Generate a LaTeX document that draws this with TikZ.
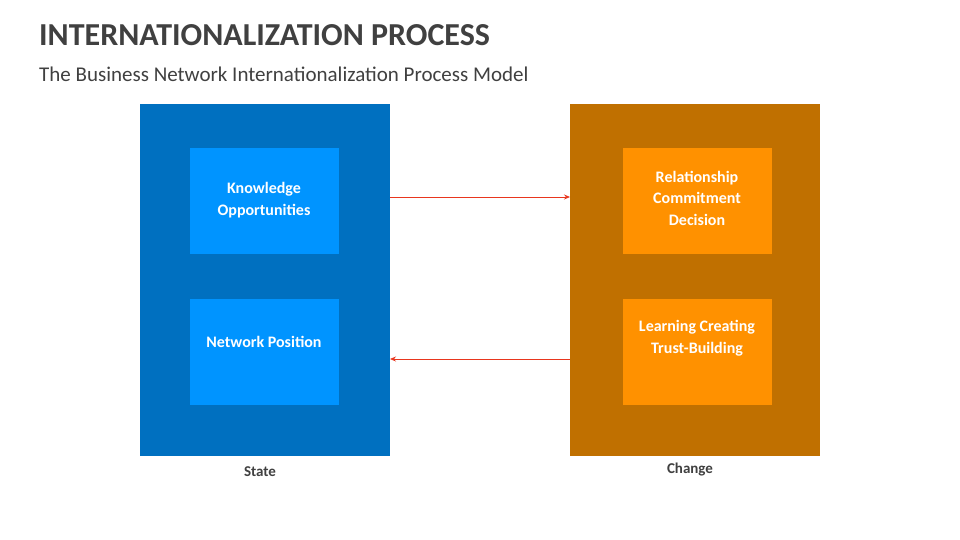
\documentclass[tikz,border=0pt]{standalone}
\usepackage{fontspec}
\setmainfont{Carlito}
\usetikzlibrary{arrows.meta}
\definecolor{tgray}{HTML}{404040}
\definecolor{outblue}{HTML}{0070C0}
\definecolor{inblue}{HTML}{0094FF}
\definecolor{outorange}{HTML}{C07000}
\definecolor{inorange}{HTML}{FF9100}
\definecolor{arrred}{HTML}{E8361E}
\tikzset{
  outer/.style={minimum width=250pt,minimum height=352pt,inner sep=0pt,anchor=north west},
  inner/.style={minimum width=149pt,minimum height=106pt,inner sep=0pt,anchor=north west},
  intext/.style={text=white,font=\bfseries\fontsize{16pt}{21.5pt}\selectfont,align=center},
  lab/.style={text=tgray,font=\bfseries\fontsize{15pt}{18pt}\selectfont},
  conn/.style={draw=arrred,line width=0.8pt,-{Stealth[length=6pt,width=5pt]}}
}
\begin{document}
\begin{tikzpicture}[x=1pt,y=-1pt]
\useasboundingbox[fill=white] (0,0) rectangle (960,540);
\node[anchor=west,text=tgray,font=\bfseries\fontsize{32pt}{36pt}\selectfont,inner sep=0pt] (title) at (39,35) {INTERNATIONALIZATION PROCESS};
\node[anchor=west,text=tgray,font=\fontsize{21pt}{25pt}\selectfont,inner sep=0pt] (sub) at (39,74) {The Business Network Internationalization Process Model};
\node[outer,fill=outblue] (L) at (140,104) {};
\node[outer,fill=outorange] (R) at (570,104) {};
\node[inner,fill=inblue] (k) at (190,148) {};
\node[inner,fill=inblue] (n) at (190,299) {};
\node[inner,fill=inorange] (r) at (623,148) {};
\node[inner,fill=inorange] (t) at (623,299) {};
\node[intext] (kt) at (264,200) {Knowledge\\Opportunities};
\node[intext] (nt) at (264,342) {Network Position};
\node[intext] (rt) at (697,198) {Relationship\\Commitment\\Decision};
\node[intext] (tt) at (697,338) {Learning Creating\\Trust-Building};
\node[lab] (s) at (260,472) {State};
\node[lab] (c) at (690,470) {Change};
\coordinate (a1) at (390,197);
\coordinate (a2) at (570,197);
\coordinate (b1) at (570,359);
\coordinate (b2) at (390,359);
\draw[conn] (a1) -- (a2);
\draw[conn] (b1) -- (b2);
\end{tikzpicture}
\end{document}
